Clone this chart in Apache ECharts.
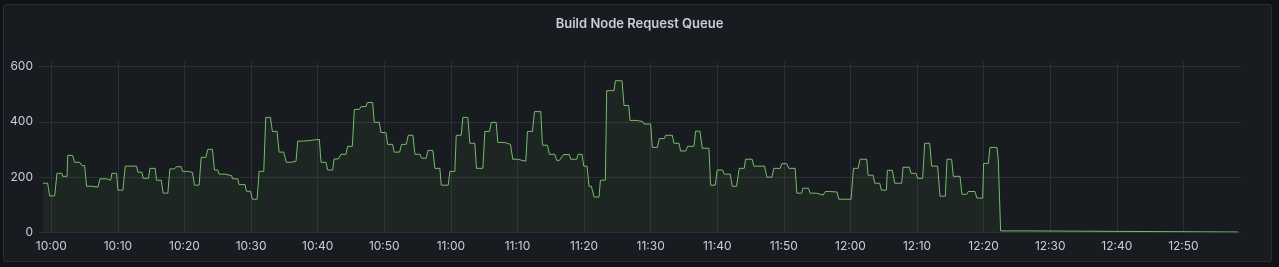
<!DOCTYPE html>
<html>
<head>
<meta charset="utf-8">
<script src="https://cdn.jsdelivr.net/npm/echarts@6/dist/echarts.min.js"></script>
<style>
  html, body { margin: 0; padding: 0; background: #111217; width: 1279px; height: 267px; overflow: hidden; }
  #panel { position: absolute; left: 3px; top: 4px; width: 1267px; height: 256px; background: #181b1f; border: 1px solid #2a2d33; border-radius: 3px; }
  #chart { position: absolute; left: 0; top: 0; width: 1279px; height: 267px; }
</style>
</head>
<body>
<div id="panel"></div>
<div id="chart"></div>
<script>
// Minutes relative to 10:00; each plateau of the queue length
const plateauStart = [-1.26,-0.25,0.85,1.7,2.46,3.5,4.6,5.3,6.2,7.3,8.4,9.1,10.0,11.1,13.0,13.8,14.8,15.8,
  16.8,17.8,18.8,19.7,20.7,21.5,22.5,23.5,24.5,25.2,26.2,27.2,28.2,29.3,30.2,31.2,32.2,33.2,34.2,
  35.3,36.1,37.0,38.2,40.5,41.5,42.45,43.5,44.5,45.5,46.5,47.45,48.5,49.5,50.5,51.5,
  52.6,53.6,54.6,55.6,56.55,57.6,58.55,59.85,60.8,61.8,62.85,63.85,65.1,66.05,67.05,68.3,69.3,
  70.3,71.5,72.55,73.75,74.8,75.9,76.9,78.0,79.1,79.95,80.75,81.5,82.45,83.4,84.7,86.0,86.9,
  88.0,89.0,90.25,91.3,92.25,93.5,94.5,95.55,96.75,97.75,99.0,100.0,101.05,102.25,103.3,104.25,
  105.5,107.45,108.5,109.7,110.75,111.95,112.85,113.95,115.1,116.25,117.1,118.25,120.45,121.45,122.65,123.65,
  124.65,125.55,126.65,127.9,129.1,130.1,131.15,132.2,133.45,134.5,135.45,136.75,137.7,139.0,140.0,140.95,142.2,142.55,146.7];
const plateauEnd = [-0.55,0.5,1.6,2.36,3.2,4.27,5.0,6.1,7.0,8.3,8.9,9.8,10.75,12.8,13.6,14.6,15.6,16.5,
  17.5,18.5,19.5,20.6,21.2,22.2,23.2,24.2,25.0,26.1,27.1,28.0,29.1,29.9,30.9,31.9,32.9,33.9,34.9,
  36.0,36.75,37.9,40.25,41.25,42.25,43.1,44.25,45.2,46.25,47.25,48.25,49.25,50.25,51.25,52.3,
  53.3,54.3,55.35,56.3,57.3,58.35,59.6,60.6,61.55,62.55,63.6,64.8,65.8,66.8,68.1,68.95,70.0,
  71.25,72.25,73.5,74.5,75.6,76.3,77.8,78.9,79.7,80.45,81.1,82.25,83.2,84.5,85.7,86.7,87.8,
  88.8,90.0,91.0,92.05,93.25,94.25,95.25,96.5,97.4,98.75,99.7,100.8,101.95,102.9,104.05,105.25,
  107.1,108.2,109.45,110.45,111.7,112.7,113.7,114.9,115.9,116.9,118.0,120.1,121.15,122.45,123.4,124.4,
  125.4,126.3,127.7,128.85,129.85,130.85,131.9,133.1,134.25,135.2,136.45,137.45,138.7,139.85,140.7,142.0,142.5,146.55,178.2];
const plateauValue = [177,131,213,202,278,253,241,166,163,193,188,213,152,239,217,195,231,188,
  141,229,237,220,216,170,271,300,225,210,204,193,172,148,119,220,416,365,290,
  253,257,330,336,253,225,265,282,311,445,455,470,398,361,318,290,
  318,351,282,268,296,231,170,220,351,416,322,231,365,398,325,318,264,
  257,365,437,315,282,260,281,264,282,239,166,127,188,513,549,459,405,
  401,392,307,339,351,322,294,311,366,304,170,225,210,166,231,264,
  239,199,231,248,231,141,159,141,134,147,145,119,231,264,206,177,
  152,224,177,235,213,195,322,239,130,264,202,137,147,123,249,307,264,4,0];
const xTickMinutes = [0,10,20,30,40,50,60,70,80,90,100,110,120,130,140,150,160,170];
const yTicks = [0,200,400,600];

const seriesData = [];
for (let i = 0; i < plateauValue.length; i++) {
  seriesData.push([plateauStart[i], plateauValue[i]]);
  seriesData.push([plateauEnd[i], plateauValue[i]]);
}
function fmtMin(m) {
  const t = 600 + Math.round(m);
  const h = Math.floor(t / 60), mm = t % 60;
  return String(h).padStart(2, '0') + ':' + String(mm).padStart(2, '0');
}
const chart = echarts.init(document.getElementById('chart'), null, { renderer: 'canvas' });
chart.setOption({
  backgroundColor: 'transparent',
  animation: false,
  title: {
    text: 'Build Node Request Queue',
    left: 'center', top: 13,
    textStyle: { color: '#ccccdc', fontFamily: 'Inter', fontSize: 13, fontWeight: 600 }
  },
  grid: { left: 39, right: 38, top: 62, bottom: 35, containLabel: false },
  xAxis: {
    type: 'value',
    min: -1.85, max: 178.65,
    axisLine: { show: false },
    axisTick: { show: false, customValues: xTickMinutes },
    axisLabel: { customValues: xTickMinutes, formatter: fmtMin, color: '#ccccdc', fontFamily: 'Inter', fontSize: 12, margin: 8 },
    splitLine: { show: true, lineStyle: { color: '#2c2f35', width: 1 } }
  },
  yAxis: {
    type: 'value',
    min: 0, max: 617,
    axisLine: { show: false },
    axisTick: { show: false, customValues: yTicks },
    axisLabel: { customValues: yTicks, color: '#ccccdc', fontFamily: 'Inter', fontSize: 12, margin: 6 },
    splitLine: { show: true, lineStyle: { color: '#2c2f35', width: 1 } }
  },
  series: [{
    type: 'line',
    data: seriesData,
    showSymbol: false,
    lineStyle: { color: '#73bf69', width: 1 },
    itemStyle: { color: '#73bf69' },
    areaStyle: { color: 'rgba(115,191,105,0.1)' }
  }]
});
</script>
</body>
</html>
